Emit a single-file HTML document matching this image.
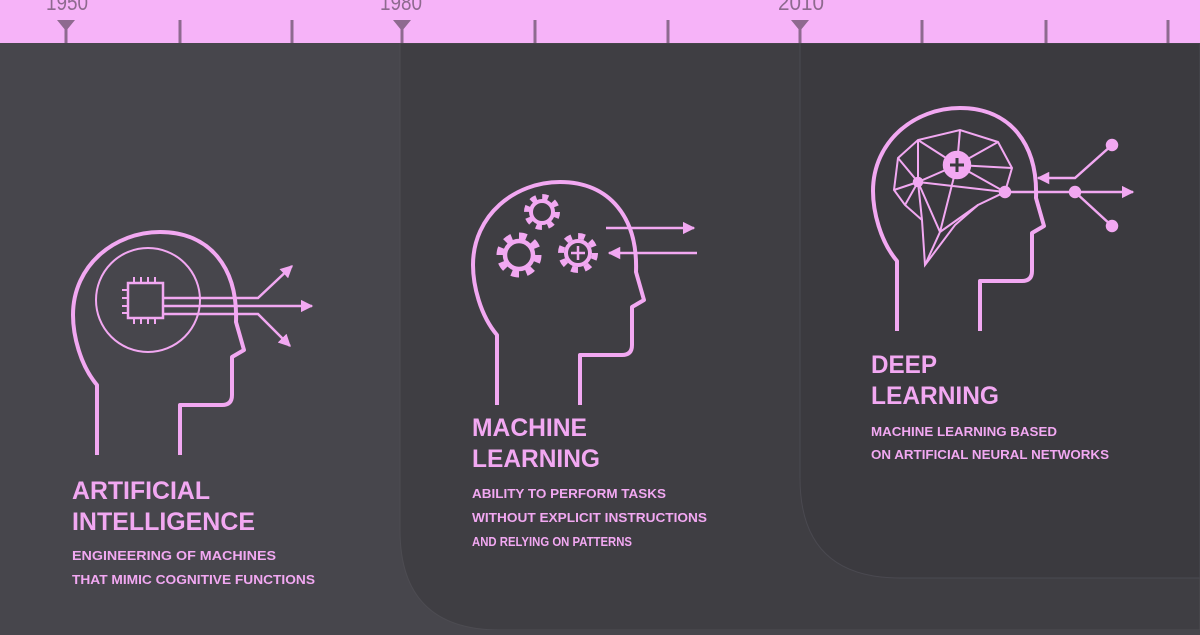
<!DOCTYPE html>
<html><head><meta charset="utf-8"><style>
body{margin:0;width:1200px;height:630px;overflow:hidden;background:#47464c;font-family:"Liberation Sans",sans-serif}
</style></head><body>
<svg width="1200" height="630" viewBox="0 0 1200 630" xmlns="http://www.w3.org/2000/svg">
<rect width="1200" height="630" fill="#47464c"/>
<path d="M400,43 H1200 V630 H500 Q400,630 400,530 Z" fill="#3f3e43" stroke="#4d4c52" stroke-width="1"/>
<path d="M800,43 H1200 V578 H900 Q800,578 800,478 Z" fill="#3b3a3f" stroke="#4a4950" stroke-width="1"/>
<rect width="1200" height="43" fill="#f6b3f8"/>
<g fill="#8e6a8f" font-size="22">
<text x="46" y="10" textLength="42" lengthAdjust="spacingAndGlyphs">1950</text><text x="380" y="10" textLength="42" lengthAdjust="spacingAndGlyphs">1980</text><text x="778" y="10" textLength="46" lengthAdjust="spacingAndGlyphs">2010</text>
</g>
<g stroke="#8e6a8f" stroke-width="3">
<line x1="66" y1="28" x2="66" y2="43"/><line x1="402" y1="28" x2="402" y2="43"/><line x1="800" y1="28" x2="800" y2="43"/>
<line x1="180" y1="20" x2="180" y2="43"/><line x1="292" y1="20" x2="292" y2="43"/><line x1="535" y1="20" x2="535" y2="43"/><line x1="668" y1="20" x2="668" y2="43"/><line x1="922" y1="20" x2="922" y2="43"/><line x1="1046" y1="20" x2="1046" y2="43"/><line x1="1168" y1="20" x2="1168" y2="43"/>
</g>
<g fill="#8e6a8f"><path d="M57,20 H75 L66,31Z"/><path d="M393,20 H411 L402,31Z"/><path d="M791,20 H809 L800,31Z"/></g>

<defs>
<path id="head" d="M97,455 L97,385 C80,365 73,335 73,315 C73,265 115,232 160,232 C210,232 238,268 236,322 L244,350 L232,357 L232,395 Q232,405 222,405 L180,405 L180,455" fill="none" stroke="#f2a8f2" stroke-width="4" stroke-linejoin="round"/>
<marker id="ar" viewBox="0 0 10 10" refX="9" refY="5" markerWidth="5" markerHeight="5" orient="auto"><path d="M0,0 L10,5 L0,10Z" fill="#f2a8f2"/></marker>
</defs>

<g stroke="#f2a8f2" fill="none" stroke-width="2.5">
<use href="#head"/>
<circle cx="148" cy="300" r="52" stroke-width="2"/>
<rect x="128" y="283" width="35" height="35"/>
<path d="M134,283v-6M141,283v-6M148,283v-6M155,283v-6M134,318v6M141,318v6M148,318v6M155,318v6M128,290h-6M128,298h-6M128,306h-6M128,313h-6" stroke-width="2"/>
<path d="M163,298 H258 L292,266" marker-end="url(#ar)"/>
<path d="M163,306 H312" marker-end="url(#ar)"/>
<path d="M163,314 H258 L290,346" marker-end="url(#ar)"/>
<!-- ML -->
<g transform="translate(400,-50)"><use href="#head"/></g>
<circle cx="542" cy="212" r="11" stroke-width="4"/><circle cx="542" cy="212" r="15" stroke-width="6" stroke-dasharray="5.9 5.9"/>
<circle cx="519" cy="255" r="14" stroke-width="4.5"/><circle cx="519" cy="255" r="19" stroke-width="7" stroke-dasharray="7.5 7.4"/>
<circle cx="578" cy="253" r="12" stroke-width="4"/><circle cx="578" cy="253" r="17" stroke-width="6" stroke-dasharray="6.7 6.65"/>
<path d="M578,246v14M571,253h14"/>
<path d="M606,228 H694" marker-end="url(#ar)"/>
<path d="M697,253 H609" marker-end="url(#ar)"/>
<!-- DL -->
<g transform="translate(800,-124)"><use href="#head"/></g>
<path d="M898,158 L918,140 L960,130 L998,142 L1012,168 L1005,192 L978,205 L955,225 L925,265 L922,220 L905,205 L894,190 Z" stroke-width="2"/>
<path d="M898,158 L918,182 L957,165 L918,140 M957,165 L960,130 M957,165 L998,142 M957,165 L1012,168 M957,165 L1005,192 M957,165 L940,232 M918,182 L894,190 M918,182 L905,205 M918,182 L922,220 M918,182 L940,232 L925,265 M918,182 L1005,192 M940,232 L978,205 M918,140 L918,182" stroke-width="2"/>
<circle cx="957" cy="165" r="13" fill="#f2a8f2"/>
<path d="M957,158v14M950,165h14" stroke="#3b3a3f" stroke-width="3"/>
<circle cx="918" cy="182" r="4" fill="#f2a8f2"/>
<circle cx="1005" cy="192" r="5" fill="#f2a8f2"/>
<path d="M1005,192 H1133" marker-end="url(#ar)"/>
<path d="M1112,145 L1075,178 H1038" marker-end="url(#ar)"/>
<path d="M1075,192 L1112,226"/>
<circle cx="1075" cy="192" r="5" fill="#f2a8f2"/>
<circle cx="1112" cy="145" r="5" fill="#f2a8f2"/>
<circle cx="1112" cy="226" r="5" fill="#f2a8f2"/>
</g>

<g fill="#f2a8f2" font-size="25" font-weight="bold" lengthAdjust="spacingAndGlyphs">
<text x="72" y="499" textLength="138" lengthAdjust="spacingAndGlyphs">ARTIFICIAL</text><text x="72" y="530" textLength="183" lengthAdjust="spacingAndGlyphs">INTELLIGENCE</text>
<text x="472" y="436" textLength="115" lengthAdjust="spacingAndGlyphs">MACHINE</text><text x="472" y="467" textLength="128" lengthAdjust="spacingAndGlyphs">LEARNING</text>
<text x="871" y="373" textLength="66" lengthAdjust="spacingAndGlyphs">DEEP</text><text x="871" y="404" textLength="128" lengthAdjust="spacingAndGlyphs">LEARNING</text>
</g>
<g fill="#f2a8f2" font-size="13" font-weight="bold">
<text x="72" y="560" textLength="204" lengthAdjust="spacingAndGlyphs">ENGINEERING OF MACHINES</text><text x="72" y="584" textLength="243" lengthAdjust="spacingAndGlyphs">THAT MIMIC COGNITIVE FUNCTIONS</text>
<text x="472" y="498" textLength="194" lengthAdjust="spacingAndGlyphs">ABILITY TO PERFORM TASKS</text><text x="472" y="522" textLength="235" lengthAdjust="spacingAndGlyphs">WITHOUT EXPLICIT INSTRUCTIONS</text><text x="472" y="546" textLength="160" lengthAdjust="spacingAndGlyphs">AND RELYING ON PATTERNS</text>
<text x="871" y="436" textLength="186" lengthAdjust="spacingAndGlyphs">MACHINE LEARNING BASED</text><text x="871" y="459" textLength="238" lengthAdjust="spacingAndGlyphs">ON ARTIFICIAL NEURAL NETWORKS</text>
</g>
</svg>
</body></html>
